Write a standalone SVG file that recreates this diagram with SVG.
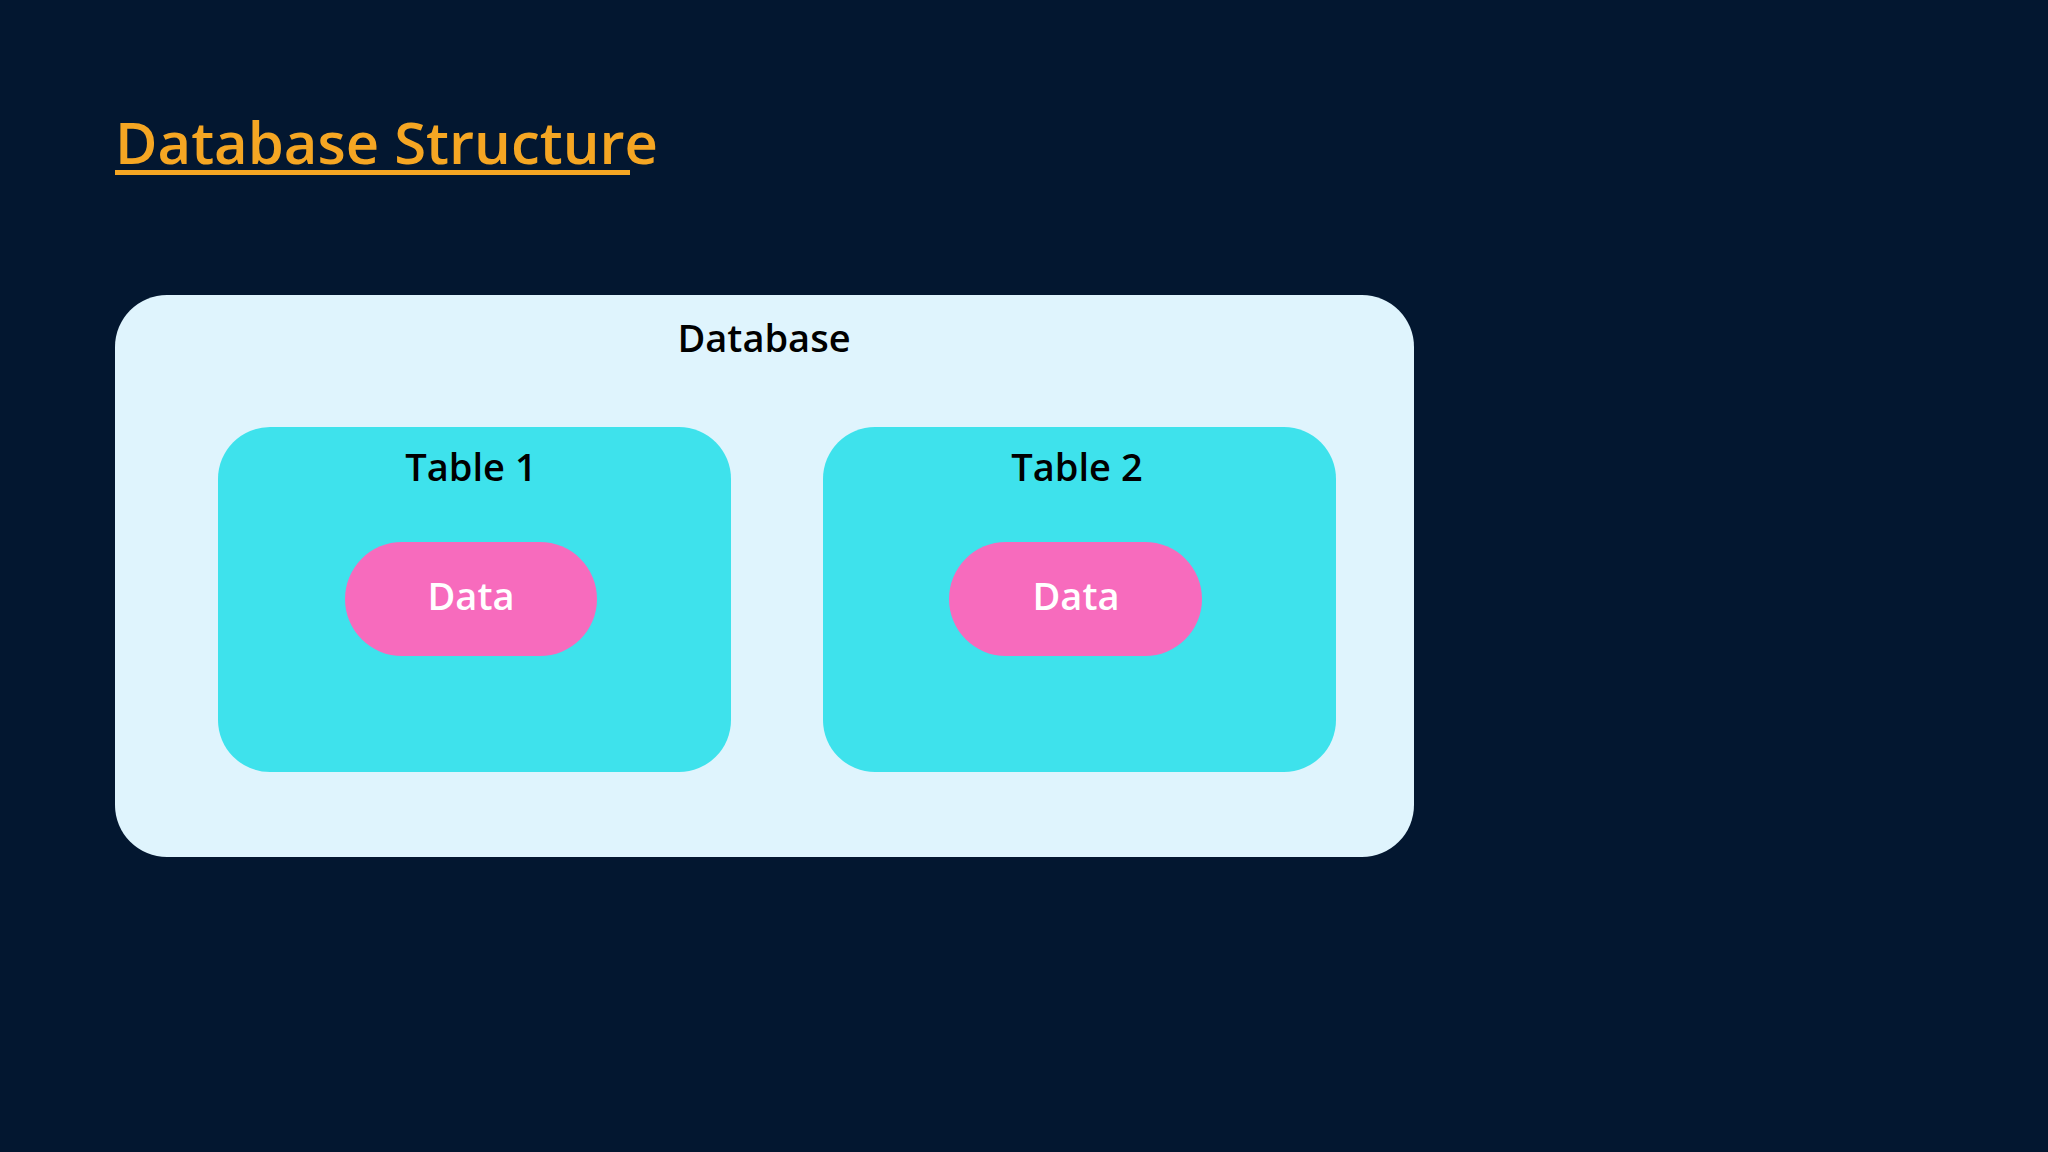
<svg xmlns="http://www.w3.org/2000/svg" width="2048" height="1152" viewBox="0 0 2048 1152">
<style>
text{font-family:"Open Sans","DejaVu Sans",sans-serif;font-weight:600;text-anchor:middle}
.lbl{font-size:38px;fill:#000}
.data{font-size:38px;fill:#fff}
.tbl{fill:#3ee2ec}
.pill{fill:#f76bbd}
</style>
<rect width="2048" height="1152" fill="#031730"/>
<g id="title"><text x="115" y="164" style="text-anchor:start;font-size:58px;fill:#f5a623">Database Structure</text><rect x="115" y="170" width="515" height="5" fill="#f5a623"/></g>
<g id="database"><rect x="115" y="295" width="1299" height="562" rx="52" fill="#dff4fd"/><text class="lbl" x="764" y="352">Database</text></g>
<g id="table1"><rect class="tbl" x="218" y="427" width="513" height="345" rx="52"/><text class="lbl" x="471" y="481">Table 1</text></g>
<g id="table2"><rect class="tbl" x="823" y="427" width="513" height="345" rx="52"/><text class="lbl" x="1077" y="481">Table 2</text></g>
<g id="data1"><rect class="pill" x="345" y="542" width="252" height="114" rx="57"/><text class="data" x="471" y="610">Data</text></g>
<g id="data2"><rect class="pill" x="949" y="542" width="253" height="114" rx="57"/><text class="data" x="1076" y="610">Data</text></g>
<g id="connectors"/>
</svg>
